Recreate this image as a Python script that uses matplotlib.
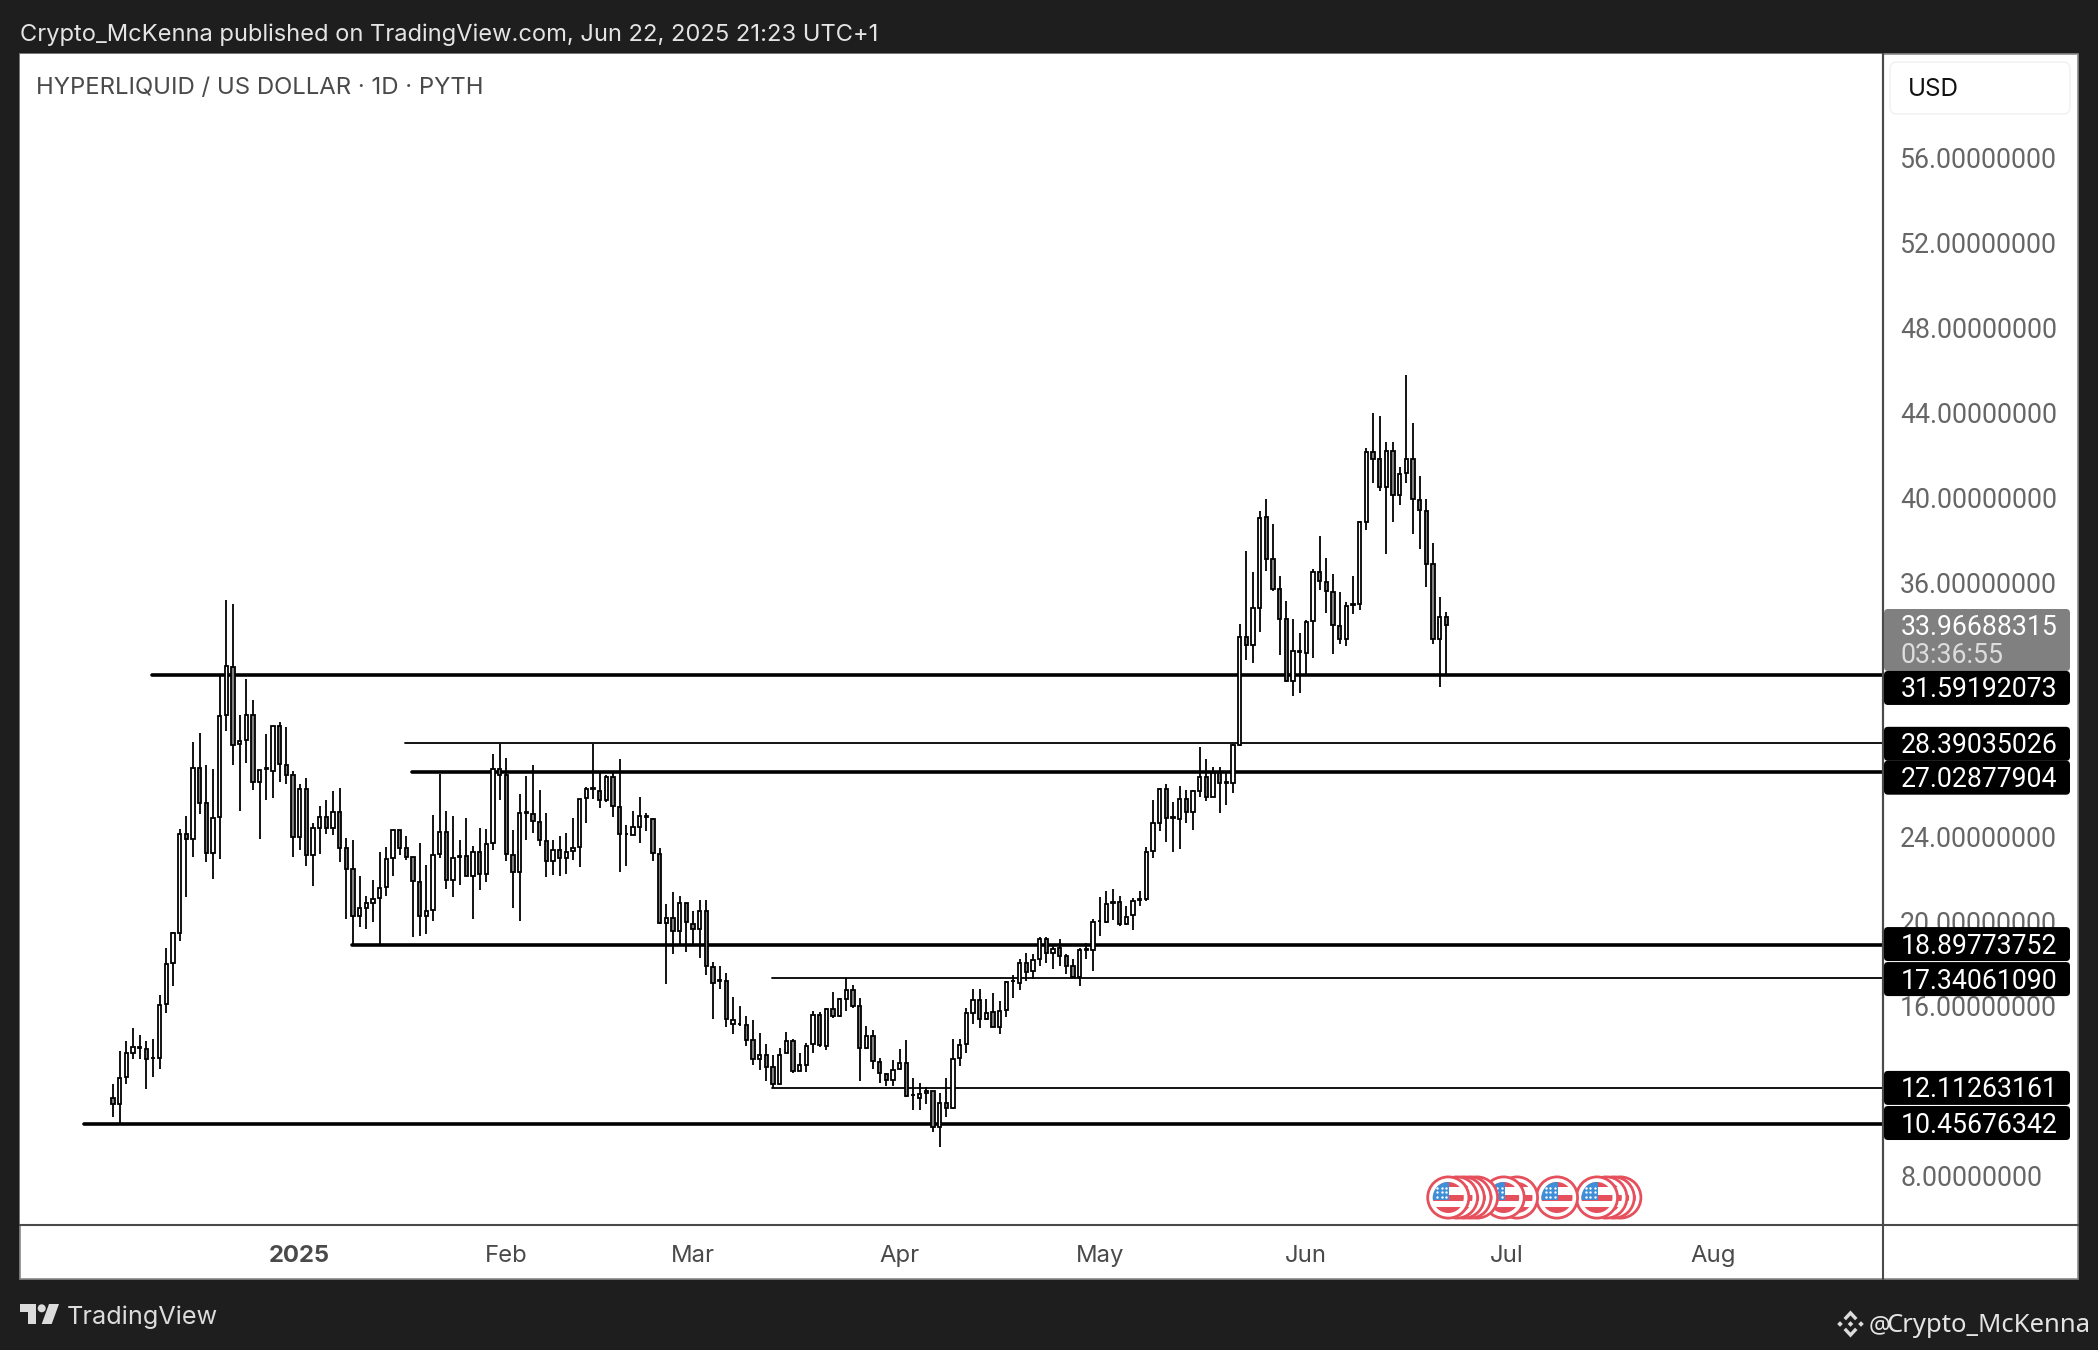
"""
Daily HYPE/USD candles with horizontal levels, redrawn from a TradingView snapshot.
"""

import matplotlib
matplotlib.use("Agg")
import matplotlib.pyplot as plt
import numpy as np
import pandas as pd
from matplotlib.patches import Circle, FancyBboxPatch, Polygon, Rectangle

# ── Data ──────────────────────────────────────────────────────────────────────

FIRST_DAY = pd.Timestamp("2024-12-04")

opens = [
    11.67, 11.36, 12.64, 13.77, 14.04, 13.99, 13.54, 13.55, 16.09, 18.03,
    19.45, 24.13, 23.88, 27.22, 25.57, 23.21, 24.92, 29.73, 31.97, 28.36,
    28.55, 29.74, 26.56, 27.18, 27.08, 29.19, 27.39, 26.91, 23.97, 26.24,
    23.12, 24.39, 24.92, 24.39, 25.14, 23.43, 22.48, 20.23, 20.63, 20.85,
    21.10, 21.61, 22.99, 24.30, 23.43, 23.04, 21.86, 20.23, 20.51, 23.16,
    24.22, 21.94, 23.04, 23.09, 22.11, 23.26, 22.25, 23.70, 27.17, 26.91,
    23.12, 22.31, 25.11, 25.06, 24.69, 23.80, 22.82, 23.34, 22.99, 23.29,
    23.49, 25.82, 26.24, 26.15, 25.72, 26.81, 25.40, 24.09, 24.05, 24.45,
    24.91, 24.80, 23.15, 19.93, 20.13, 19.56, 20.84, 19.89, 19.61, 20.48,
    17.83, 17.21, 17.17, 15.13, 15.13, 15.10, 14.39, 13.48, 13.71, 13.12,
    12.30, 13.79, 14.34, 12.93, 13.24, 14.19, 15.57, 14.11, 15.88, 15.55,
    16.34, 16.75, 16.00, 14.03, 14.58, 13.37, 12.77, 12.49, 13.01, 13.29,
    11.78, 11.67, 11.97, 11.99, 10.29, 11.43, 11.20, 13.56, 14.19, 15.68,
    16.26, 15.40, 15.71, 15.02, 15.81, 17.16, 17.10, 18.04, 17.65, 18.20,
    19.17, 18.48, 18.75, 18.35, 17.88, 17.38, 18.64, 18.64, 19.99, 19.97,
    20.88, 20.90, 19.89, 20.27, 21.01, 21.03, 23.29, 24.65, 26.22, 24.87,
    24.81, 25.75, 25.17, 26.14, 26.79, 25.87, 27.00, 26.52, 26.53, 28.31,
    33.39, 33.03, 34.76, 39.05, 37.07, 35.68, 34.24, 31.35, 32.73, 32.67,
    34.16, 36.46, 36.02, 35.54, 33.94, 33.30, 34.93, 34.94, 38.81, 42.15,
    41.79, 40.46, 42.20, 40.10, 41.13, 41.80, 39.87, 39.37, 36.83, 33.30,
    34.37,
]
closes = [
    11.36, 12.59, 13.76, 14.06, 14.08, 13.49, 13.57, 16.06, 18.00, 19.45,
    24.13, 23.89, 27.22, 25.57, 23.21, 24.89, 29.69, 32.02, 28.31, 28.50,
    29.74, 26.56, 27.13, 27.22, 29.19, 27.42, 26.91, 23.97, 26.24, 23.12,
    24.39, 24.92, 24.39, 25.14, 23.46, 22.48, 20.23, 20.60, 20.85, 21.07,
    21.57, 22.95, 24.30, 23.46, 23.04, 21.89, 20.23, 20.46, 23.12, 24.22,
    21.94, 22.99, 23.09, 22.11, 23.26, 22.25, 23.66, 27.20, 26.91, 23.16,
    22.31, 25.11, 25.14, 24.72, 23.83, 22.82, 23.38, 22.99, 23.26, 23.46,
    25.78, 26.22, 26.27, 25.72, 26.80, 25.43, 24.09, 24.11, 24.44, 24.96,
    24.94, 23.20, 19.93, 20.13, 19.56, 20.84, 19.96, 19.61, 20.48, 17.88,
    17.10, 17.19, 15.37, 15.33, 15.14, 14.39, 13.48, 13.71, 13.13, 12.30,
    13.71, 14.34, 12.93, 13.21, 14.11, 15.57, 14.14, 15.88, 15.55, 16.31,
    16.75, 16.00, 14.03, 14.58, 13.40, 12.82, 12.49, 12.97, 13.29, 11.75,
    11.81, 11.83, 11.91, 10.29, 11.43, 11.20, 13.51, 14.14, 15.65, 16.26,
    15.40, 15.68, 15.02, 15.76, 17.13, 17.19, 18.04, 17.60, 18.15, 19.17,
    18.48, 18.71, 18.38, 17.91, 17.38, 18.64, 18.68, 19.96, 20.02, 20.82,
    20.92, 19.85, 20.21, 20.95, 21.04, 23.26, 24.61, 26.22, 24.85, 24.90,
    25.75, 25.17, 26.14, 26.79, 25.87, 27.00, 26.50, 26.55, 28.31, 33.39,
    33.03, 34.76, 39.00, 37.09, 35.65, 34.25, 31.35, 32.76, 32.70, 34.13,
    36.46, 36.05, 35.57, 33.97, 33.30, 34.88, 34.96, 38.81, 42.15, 41.80,
    40.46, 42.20, 40.10, 41.09, 41.80, 39.92, 39.40, 36.85, 33.30, 34.37,
    33.97,
]
highs = [
    12.31, 13.89, 14.33, 14.95, 14.61, 14.33, 14.43, 16.52, 18.74, 19.50,
    24.34, 24.97, 28.43, 28.90, 27.37, 27.17, 31.68, 35.13, 34.95, 29.73,
    31.41, 30.42, 27.13, 28.85, 29.19, 29.41, 29.15, 27.08, 26.46, 26.74,
    24.64, 25.43, 25.73, 26.15, 26.27, 23.93, 23.85, 22.11, 21.18, 21.94,
    23.26, 23.49, 24.30, 24.30, 24.00, 23.04, 23.68, 22.67, 25.01, 26.96,
    25.18, 24.94, 23.85, 24.86, 23.54, 24.39, 24.34, 27.87, 28.34, 27.72,
    24.30, 26.02, 26.83, 27.37, 26.19, 25.09, 23.83, 24.00, 24.17, 24.89,
    25.78, 26.32, 28.34, 27.00, 26.91, 27.03, 27.66, 24.52, 25.19, 25.87,
    25.11, 24.85, 23.46, 20.82, 21.39, 21.18, 20.84, 20.48, 20.98, 20.99,
    18.09, 17.88, 17.57, 16.44, 15.99, 15.52, 15.33, 14.74, 14.22, 13.67,
    14.03, 14.77, 14.42, 13.79, 14.27, 15.76, 15.71, 15.92, 16.65, 16.39,
    17.33, 16.99, 16.39, 15.08, 14.86, 13.56, 12.85, 13.45, 13.95, 14.39,
    12.61, 12.35, 12.19, 11.99, 11.91, 12.61, 14.42, 14.45, 15.92, 16.81,
    16.81, 16.31, 16.59, 16.23, 17.17, 17.44, 18.23, 18.51, 18.43, 19.27,
    19.27, 18.90, 19.17, 18.43, 18.23, 18.75, 18.98, 20.11, 21.15, 21.42,
    21.50, 21.18, 20.71, 21.10, 21.42, 23.51, 25.74, 26.27, 26.46, 25.61,
    26.38, 26.19, 26.19, 28.20, 27.64, 27.26, 27.29, 27.01, 28.36, 34.02,
    37.46, 36.46, 39.37, 39.92, 38.74, 36.28, 35.10, 34.24, 33.58, 34.21,
    36.60, 38.17, 37.12, 36.38, 35.51, 35.07, 36.28, 38.89, 42.30, 43.96,
    43.83, 42.62, 42.62, 41.41, 45.76, 43.48, 41.02, 39.90, 37.82, 35.28,
    34.57,
]
lows = [
    10.77, 10.44, 12.31, 13.52, 13.52, 12.09, 12.63, 13.05, 15.66, 16.94,
    19.08, 21.13, 23.04, 25.06, 22.79, 22.01, 22.95, 28.97, 27.37, 25.19,
    27.44, 26.19, 23.88, 25.73, 25.82, 26.58, 26.49, 23.04, 23.38, 22.62,
    21.64, 23.16, 24.13, 24.05, 22.79, 20.12, 18.88, 19.75, 19.62, 19.96,
    18.88, 21.18, 22.11, 23.12, 22.87, 19.25, 19.28, 19.38, 20.01, 22.99,
    21.52, 21.13, 21.72, 22.11, 20.12, 21.47, 21.86, 23.38, 25.73, 22.82,
    20.60, 20.01, 23.83, 24.17, 23.54, 22.08, 22.20, 22.11, 22.25, 22.90,
    22.58, 24.61, 25.78, 25.36, 25.62, 24.93, 22.32, 22.60, 24.05, 23.70,
    24.25, 22.83, 19.89, 17.02, 18.43, 18.90, 18.54, 18.90, 18.27, 17.46,
    15.40, 16.81, 15.00, 14.66, 15.08, 14.11, 13.24, 12.97, 12.46, 12.11,
    12.30, 13.76, 12.85, 12.93, 12.88, 13.79, 14.08, 13.92, 15.44, 15.49,
    15.76, 15.92, 12.46, 13.98, 13.01, 12.35, 12.22, 12.22, 12.97, 11.72,
    11.09, 11.09, 11.40, 10.07, 9.34, 10.78, 11.15, 13.16, 13.76, 15.13,
    14.97, 15.33, 15.02, 14.69, 15.49, 16.39, 16.75, 17.17, 17.28, 17.88,
    18.01, 17.76, 17.91, 17.49, 17.33, 16.94, 18.20, 17.64, 19.30, 19.93,
    20.08, 19.77, 19.80, 19.58, 20.71, 20.95, 22.99, 24.27, 23.75, 23.28,
    23.39, 24.65, 24.30, 25.84, 25.69, 25.84, 25.12, 25.48, 26.06, 28.28,
    32.32, 32.16, 33.66, 36.53, 35.59, 32.56, 31.30, 30.64, 30.78, 31.61,
    32.43, 35.62, 34.52, 32.60, 33.07, 32.98, 34.49, 34.68, 38.45, 40.65,
    40.31, 37.32, 38.81, 39.63, 40.69, 38.26, 37.56, 35.78, 33.07, 31.06,
    31.61,
]

# horizontal levels: price, first bar (day number), heavy or thin
level_prices = [31.59192073, 28.39035026, 27.02877904, 18.89773752,
                17.34061090, 12.11263161, 10.45676342]
level_starts = [5.8, 43.8, 44.9, 35.9, 98.9, 98.9, -4.3]
level_heavy = [True, False, True, True, False, False, True]

last_price = 33.96688315
countdown = "03:36:55"

price_ticks = [56, 52, 48, 44, 40, 36, 24, 20, 16, 8]
month_ticks = ["2025-01-01", "2025-02-01", "2025-03-01", "2025-04-01",
               "2025-05-01", "2025-06-01", "2025-07-01", "2025-08-01"]
month_labels = ["2025", "Feb", "Mar", "Apr", "May", "Jun", "Jul", "Aug"]

# US economic events along the bottom, day numbers, back-to-front
event_days = [226.1, 225.1, 224.0, 222.6, 216.6, 210.6, 208.6, 204.6, 203.6, 202.6, 201.6, 200.3]

# ── Layout (pixels of the 2098×1350 picture) ──────────────────────────────────

W, H = 2098, 1350
PANEL_L, PANEL_T, PANEL_R, PANEL_B = 20, 54, 2078, 1279
AXIS_R, AXIS_B = 1883, 1225
BOX_R = 2070

# a bar is 6.667 px wide, bar 0 sits at x=112.9; 21.2 px per dollar, $56 at y=158
X0_PX, PX_PER_DAY = 112.9, 6.667
Y56_PX, PX_PER_USD = 158.0, 21.2

# the tags are pushed down where they would collide
tag_shift = [12.5, 0.5, 5.5, -0.5, 1.5, -0.5, -0.5]
TAG_TEXT_DROP = 2

DARK = "#1e1e1e"
AXIS_LINE = "#4a4a4a"
TICK_TEXT = "#666666"
UP_FILL = "#ffffff"
DOWN_FILL = "#808080"
FLAG_RED = "#e5505c"
FLAG_BLUE = "#3f8fd8"

FONT = ["Inter", "DejaVu Sans"]
NUM_FONT = ["Roboto", "DejaVu Sans"]
NUM_SIZE = 19.2
plt.rcParams["font.family"] = FONT


def x_px(day):
    return X0_PX + PX_PER_DAY * day


def y_px(price):
    return Y56_PX + (56 - price) * PX_PER_USD


def pixel_axes(fig, zorder):
    a = fig.add_axes([0, 0, 1, 1], zorder=zorder)
    a.set_xlim(0, W)
    a.set_ylim(H, 0)
    a.set_axis_off()
    a.patch.set_alpha(0)
    return a


def draw_event(a, cx, cy):
    """One red-ringed round flag."""
    a.add_patch(Circle((cx, cy), 20.6, fc="white", ec=FLAG_RED, lw=2.0, zorder=3))
    clip = Circle((cx, cy), 15.5, transform=a.transData)
    parts = [Rectangle((cx - 16, cy - 16), 32, 32, fc="white", ec="none")]
    for top, h in ((-16, 5.5), (-3, 6.5), (9, 7)):
        parts.append(Rectangle((cx - 16, cy + top), 32, h, fc=FLAG_RED, ec="none"))
    parts.append(Rectangle((cx - 16, cy - 16), 17, 18, fc=FLAG_BLUE, ec="none"))
    for p in parts:
        p.set_zorder(3)
        a.add_patch(p)
        p.set_clip_path(clip)
    sx = [cx - 11, cx - 6.5, cx - 2]
    sy = [cy - 10, cy - 5.5, cy - 1]
    a.scatter(np.repeat(sx, 3), np.tile(sy, 3), s=3, c="white", lw=0, zorder=3)


# ── Figure ────────────────────────────────────────────────────────────────────

assert len(opens) == len(closes) == len(highs) == len(lows)

fig = plt.figure(figsize=(W / 100, H / 100), dpi=100, facecolor=DARK)

page = pixel_axes(fig, 0)
page.add_patch(Rectangle((PANEL_L, PANEL_T), PANEL_R - PANEL_L, PANEL_B - PANEL_T,
                         fc="white", ec="#8a8a8a", lw=1.2))

ax = fig.add_axes([PANEL_L / W, 1 - AXIS_B / H,
                   (AXIS_R - PANEL_L) / W, (AXIS_B - PANEL_T) / H], zorder=1)
ax.set_facecolor("white")
ax.set_xlim((PANEL_L - X0_PX) / PX_PER_DAY, (AXIS_R - X0_PX) / PX_PER_DAY)
ax.set_ylim(56 - (AXIS_B - Y56_PX) / PX_PER_USD, 56 + (Y56_PX - PANEL_T) / PX_PER_USD)

# ── Levels ──
right_edge = ax.get_xlim()[1]
for price, start, heavy in zip(level_prices, level_starts, level_heavy):
    ax.plot([start, right_edge], [price, price], color="black",
            lw=2.6 if heavy else 1.3, solid_capstyle="round", zorder=2)

# ── Candles ──
days = np.arange(len(closes))
o, c = np.array(opens), np.array(closes)
ax.vlines(days, lows, highs, color="black", lw=1.3, zorder=3)
ax.bar(days, np.abs(c - o), bottom=np.minimum(o, c), width=0.5,
       color=[UP_FILL if up else DOWN_FILL for up in c >= o],
       edgecolor="black", linewidth=1.3, zorder=4)

# ── Axes ──
for side in ("top", "left"):
    ax.spines[side].set_visible(False)
for side in ("right", "bottom"):
    ax.spines[side].set_color(AXIS_LINE)
    ax.spines[side].set_linewidth(1.5)

ax.yaxis.tick_right()
ax.set_yticks(price_ticks)
ax.set_yticklabels([f"{p:.8f}" for p in price_ticks], family=NUM_FONT)
ax.tick_params(axis="y", length=0, pad=12.3, labelsize=NUM_SIZE, labelcolor=TICK_TEXT)

tick_days = [(pd.Timestamp(d) - FIRST_DAY).days for d in month_ticks]
ax.set_xticks(tick_days)
ax.set_xticklabels(month_labels)
ax.tick_params(axis="x", length=0, pad=14.3, labelsize=17.2, labelcolor=AXIS_LINE)
ax.get_xticklabels()[0].set_fontweight("bold")

# ── Overlay: tags, frame text, logos ──
over = pixel_axes(fig, 2)

# axis lines run on through the axis strips
over.plot([AXIS_R, AXIS_R], [PANEL_T, PANEL_B], color=AXIS_LINE, lw=1.5)
over.plot([AXIS_R, PANEL_R], [AXIS_B, AXIS_B], color=AXIS_LINE, lw=1.5)

# last price tag
tag_left = AXIS_R + 1
over.add_patch(FancyBboxPatch((tag_left, 609), BOX_R - tag_left, 62,
                              boxstyle="round,pad=0,rounding_size=4",
                              fc=DOWN_FILL, ec="none", zorder=2))
over.text(1901, y_px(last_price) + TAG_TEXT_DROP, f"{last_price:.8f}", color="white",
          fontsize=NUM_SIZE, family=NUM_FONT, ha="left", va="center", zorder=3)
over.text(1901, 655.5, countdown, color="#dddddd", fontsize=NUM_SIZE, family=NUM_FONT,
          ha="left", va="center", zorder=3)

# level tags
for price, shift in zip(level_prices, tag_shift):
    cy = y_px(price) + shift
    over.add_patch(FancyBboxPatch((tag_left, cy - 17), BOX_R - tag_left, 34,
                                  boxstyle="round,pad=0,rounding_size=4",
                                  fc="black", ec="none", zorder=2))
    over.text(1901, cy + TAG_TEXT_DROP, f"{price:.8f}", color="white", fontsize=NUM_SIZE,
              family=NUM_FONT, ha="left", va="center", zorder=3)

# currency button
over.add_patch(FancyBboxPatch((1890, 62), 180, 52,
                              boxstyle="round,pad=0,rounding_size=7",
                              fc="white", ec="#f0f0f0", lw=1.0))
over.text(1908, 90, "USD", color="#111111", fontsize=17.5, ha="left", va="center")

# frame text
over.text(20, 34.5, "Crypto_McKenna published on TradingView.com, Jun 22, 2025 21:23 UTC+1",
          color="#e4e4e4", fontsize=17.05, ha="left", va="center")
over.text(36, 88, "HYPERLIQUID / US DOLLAR · 1D · PYTH", color=AXIS_LINE,
          fontsize=17.2, ha="left", va="center")

# events
for day in event_days:
    draw_event(over, x_px(day), 1197.5)

# TradingView mark
mark = [[(20, 1304), (35.7, 1304), (35.7, 1324), (27.7, 1324), (27.7, 1312), (20, 1312)],
        [(49, 1304), (59, 1304), (51.7, 1324), (41.7, 1324)]]
for pts in mark:
    over.add_patch(Polygon(pts, closed=True, fc="#dcdcdc", ec="none"))
over.add_patch(Circle((41.7, 1308.3), 4, fc="#dcdcdc", ec="none"))
over.text(67, 1317, "TradingView", color="#dcdcdc", fontsize=18.2, ha="left", va="center")

# Binance style mark next to the handle
bx, by = 1850.5, 1324
for dx, dy, r in ((-10.5, 0, 2.8), (10.5, 0, 2.8), (0, 0, 2.8)):
    over.add_patch(Polygon([(bx + dx - r, by + dy), (bx + dx, by + dy - r),
                            (bx + dx + r, by + dy), (bx + dx, by + dy + r)],
                           closed=True, fc="#dcdcdc", ec="none"))
for s in (-1, 1):
    over.add_patch(Polygon([(bx - 7, by + s * 6), (bx, by + s * 13.5), (bx + 7, by + s * 6),
                            (bx + 4.5, by + s * 3.7), (bx, by + s * 8.5), (bx - 4.5, by + s * 3.7)],
                           closed=True, fc="#dcdcdc", ec="none"))
over.text(1869, 1326, "@", color="#e4e4e4", fontsize=17.5, ha="left", va="center",
          family=["Noto Sans", "DejaVu Sans"])
over.text(2090, 1326, "Crypto_McKenna", color="#e4e4e4", fontsize=18.5, ha="right", va="center",
          family=["Noto Sans", "DejaVu Sans"])

fig.savefig("out.png", dpi=100, facecolor=DARK)
